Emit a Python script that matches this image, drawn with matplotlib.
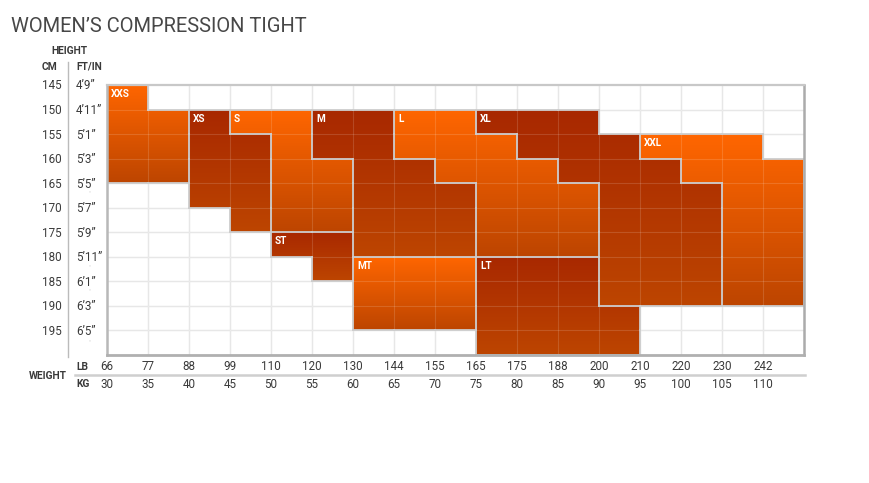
import matplotlib
matplotlib.use("Agg")
import numpy as np
import matplotlib.pyplot as plt
import matplotlib.transforms as mtransforms
from matplotlib.path import Path
from matplotlib.patches import PathPatch
from matplotlib.lines import Line2D
from matplotlib.colors import to_rgb

plt.rcParams['font.family'] = ['Roboto', 'DejaVu Sans']

TITLE = "WOMEN’S COMPRESSION TIGHT"

HEIGHT_CM = [145, 150, 155, 160, 165, 170, 175, 180, 185, 190, 195]
HEIGHT_FTIN = ["4’9”", "4’11”", "5’1”", "5’3”", "5’5”", "5’7”",
               "5’9”", "5’11”", "6’1”", "6’3”", "6’5”"]
WEIGHT_LB = [66, 77, 88, 99, 110, 120, 130, 144, 155, 165, 175, 188,
             200, 210, 220, 230, 242]
WEIGHT_KG = [30, 35, 40, 45, 50, 55, 60, 65, 70, 75, 80, 85,
             90, 95, 100, 105, 110]

# sizes, the tone at the top of each block, and the cells it covers:
# (weight column, first height row, last height row)
SIZES = ["XXS", "XS", "S", "ST", "M", "MT", "L", "LT", "XL", "XXL"]
SIZE_TONE = ["orange", "dark", "orange", "dark", "dark", "orange",
             "orange", "dark", "dark", "orange"]
SIZE_SPANS = [
    [(0, 0, 3), (1, 1, 3)],
    [(2, 1, 4), (3, 2, 5)],
    [(3, 1, 1), (4, 1, 5), (5, 3, 5)],
    [(4, 6, 6), (5, 6, 7)],
    [(5, 1, 2), (6, 1, 6), (7, 3, 6), (8, 4, 6)],
    [(6, 7, 9), (7, 7, 9), (8, 7, 9)],
    [(7, 1, 2), (8, 1, 3), (9, 2, 6), (10, 3, 6), (11, 4, 6)],
    [(9, 7, 10), (10, 7, 10), (11, 7, 10), (12, 9, 10)],
    [(9, 1, 1), (10, 1, 2), (11, 1, 3), (12, 2, 8), (13, 3, 8), (14, 4, 8)],
    [(13, 2, 2), (14, 2, 3), (15, 2, 8), (16, 3, 8)],
]

TOP_COLORS = {"orange": "#ff6600", "dark": "#a82800"}
BOTTOM_COLOR = "#bd4500"
TEXT_COLOR = "#3a3a3a"

W, H = 870, 483


def fx(px):
    return px / W


def fy(py):
    return 1 - py / H


fig = plt.figure(figsize=(W / 100, H / 100), dpi=100)
ax = fig.add_axes([fx(107), fy(355), (804 - 107) / W, (355 - 85) / H])
ncol = len(WEIGHT_LB)
nrow = len(HEIGHT_CM)

# plain grid on white
for c in range(1, ncol):
    ax.axvline(c, color="#e4e4e4", lw=1, zorder=0)
for r in range(1, nrow):
    ax.axhline(r, color="#e4e4e4", lw=1, zorder=0)

owner = np.full((nrow, ncol), -1)
for i, (name, tone, spans) in enumerate(zip(SIZES, SIZE_TONE, SIZE_SPANS)):
    verts, codes = [], []
    cols, rows = [], []
    for c, r0, r1 in spans:
        owner[r0:r1 + 1, c] = i
        verts += [(c, r0), (c + 1, r0), (c + 1, r1 + 1), (c, r1 + 1), (c, r0)]
        codes += [Path.MOVETO, Path.LINETO, Path.LINETO, Path.LINETO, Path.CLOSEPOLY]
        cols += [c, c + 1]
        rows += [r0, r1 + 1]
    clip = PathPatch(Path(verts, codes), transform=ax.transData,
                     facecolor="none", edgecolor="none")
    t = np.linspace(0, 1, 120)[:, None]
    grad = np.array(to_rgb(TOP_COLORS[tone])) * (1 - t) + np.array(to_rgb(BOTTOM_COLOR)) * t
    im = ax.imshow(grad.reshape(-1, 1, 3), extent=[min(cols), max(cols), max(rows), min(rows)],
                   origin="upper", aspect="auto", interpolation="bilinear", zorder=1)
    im.set_clip_path(clip)
    # label in the top left cell of the block
    top_row = min(s[1] for s in spans)
    left_col = min(s[0] for s in spans if s[1] == top_row)
    ax.text(left_col + 0.1, top_row + 0.37, name, color="white", fontsize=7.2,
            fontweight="bold", ha="left", va="center", zorder=6)

# faint grid over the coloured blocks
for c in range(1, ncol):
    ax.axvline(c, color="white", lw=0.8, alpha=0.14, zorder=2)
for r in range(1, nrow):
    ax.axhline(r, color="white", lw=0.8, alpha=0.14, zorder=2)


def who(r, c):
    if 0 <= r < nrow and 0 <= c < ncol:
        return owner[r, c]
    return -1


# block outlines
for r in range(nrow):
    for c in range(ncol + 1):
        a, b = who(r, c - 1), who(r, c)
        if a != b:
            ax.plot([c, c], [r, r + 1], color="#cdcdcd", lw=1.3, zorder=4,
                    solid_capstyle="projecting")
for r in range(nrow + 1):
    for c in range(ncol):
        a, b = who(r - 1, c), who(r, c)
        if a != b:
            ax.plot([c, c + 1], [r, r], color="#cdcdcd", lw=1.3, zorder=4,
                    solid_capstyle="projecting")

ax.set_xlim(0, ncol)
ax.set_ylim(nrow, 0)
ax.set_xticks([])
ax.set_yticks([])
for side, col, lw in [("top", "#c8c8c8", 1.6), ("right", "#ababab", 1.8),
                      ("left", "#b8b8b8", 1.8), ("bottom", "#b0b0b0", 2.0)]:
    ax.spines[side].set_color(col)
    ax.spines[side].set_linewidth(lw)
    ax.spines[side].set_zorder(7)

# height labels
trans_h = mtransforms.blended_transform_factory(fig.transFigure, ax.transData)
for r, (cm, ftin) in enumerate(zip(HEIGHT_CM, HEIGHT_FTIN)):
    ax.text(fx(51.5), r + 0.04, str(cm), transform=trans_h, ha="center", va="center",
            fontsize=8.4, color=TEXT_COLOR)
    ax.text(fx(76), r + 0.04, ftin, transform=trans_h, ha="left", va="center",
            fontsize=8.4, color=TEXT_COLOR)

# weight labels
trans_w = mtransforms.blended_transform_factory(ax.transData, fig.transFigure)
for c, (lb, kg) in enumerate(zip(WEIGHT_LB, WEIGHT_KG)):
    ax.text(c, fy(367), str(lb), transform=trans_w, ha="center", va="center",
            fontsize=8.4, color=TEXT_COLOR)
    ax.text(c, fy(384), str(kg), transform=trans_w, ha="center", va="center",
            fontsize=8.4, color=TEXT_COLOR)

bold = dict(fontsize=7.4, fontweight="bold", color=TEXT_COLOR, va="center")
fig.text(fx(69), fy(51), "HEIGHT", ha="center", **bold)
fig.text(fx(50), fy(67), "CM", ha="center", **bold)
fig.text(fx(76), fy(67), "FT/IN", ha="left", **bold)
fig.text(fx(67), fy(376), "WEIGHT", ha="right", **bold)
fig.text(fx(76), fy(367), "LB", ha="left", **bold)
fig.text(fx(76), fy(384), "KG", ha="left", **bold)

fig.add_artist(Line2D([fx(68), fx(68)], [fy(62), fy(357)], color="#bbbbbb", lw=1))
fig.add_artist(Line2D([fx(75), fx(805)], [fy(375), fy(375)], color="#cfcfcf", lw=1.8))

# faint stray marks next to the feet/inch column
for y in [194, 268, 292, 343]:
    fig.text(fx(90), fy(y), "″", color="#dddddd", fontsize=5, ha="center", va="center")

fig.text(fx(11), fy(26), TITLE, fontsize=14.5, color="#474747", ha="left", va="center")

fig.savefig("out.png", dpi=100)
